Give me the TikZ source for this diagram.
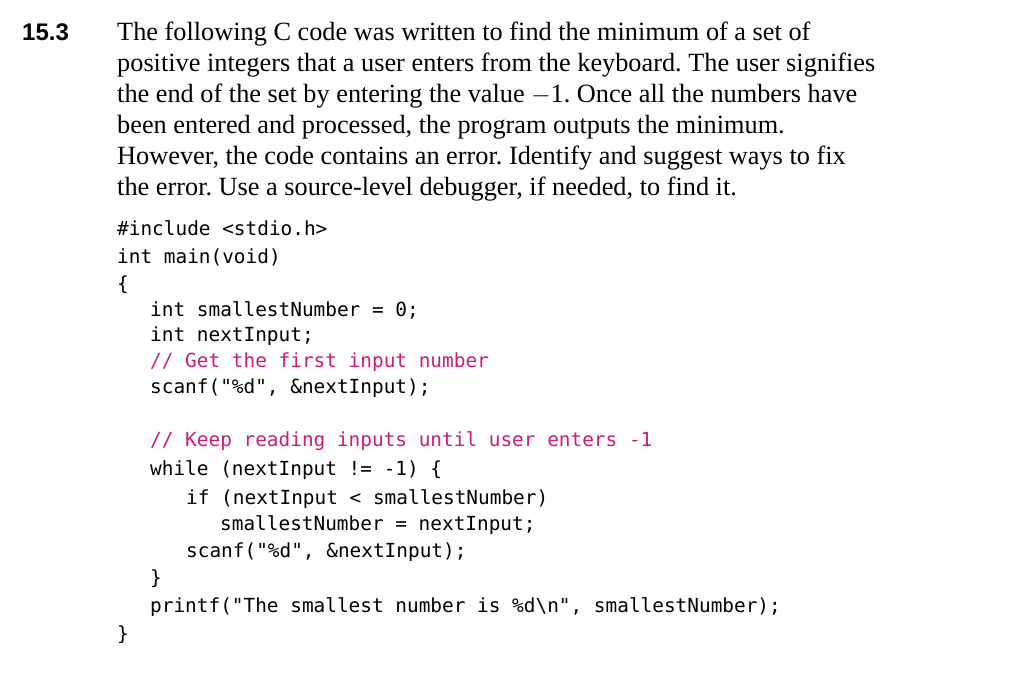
\documentclass[tikz,border=0pt]{standalone}
\usepackage{fontspec}
\setmainfont{Liberation Serif}
\newfontfamily\codefont{DejaVu Sans Mono}
\newfontfamily\numfont{Liberation Sans}
\definecolor{cmt}{RGB}{204,28,120}
\begin{document}
\frenchspacing
\begin{tikzpicture}[x=1pt,y=-1pt,
  txt/.style={anchor=base west,inner sep=0pt,font=\fontsize{26.3}{30}\selectfont},
  code/.style={anchor=base west,inner sep=0pt,font=\codefont\fontsize{19.4}{24}\selectfont}]
\useasboundingbox (0,0) rectangle (1026,700);
\node[anchor=base west,inner sep=0pt,font=\numfont\bfseries\fontsize{24}{28}\selectfont] (num) at (22,41) {15.3};
\node[txt] (t1) at (117,41) {The following C code was written to find the minimum of a set of};
\node[txt] (t2) at (117,72) {positive integers that a user enters from the keyboard. The user signifies};
\node[txt] (t3) at (117,103) {the end of the set by entering the value $-$1. Once all the numbers have};
\node[txt] (t4) at (117,134) {been entered and processed, the program outputs the minimum.};
\node[txt] (t5) at (117,165) {However, the code contains an error. Identify and suggest ways to fix};
\node[txt] (t6) at (117,196) {the error. Use a source-level debugger, if needed, to find it.};
\node[code] (c1) at (117,236) {\#include <stdio.h>};
\node[code] (c2) at (117,264) {int main(void)};
\node[code] (c3) at (117,291) {\{};
\node[code] (c4) at (150,317) {int smallestNumber = 0;};
\node[code] (c5) at (150,342) {int nextInput;};
\node[code,text=cmt] (c6) at (150,368) {// Get the first input number};
\node[code] (c7) at (150,394) {scanf("\%d", \&nextInput);};
\node[code,text=cmt] (c8) at (150,447) {// Keep reading inputs until user enters -1};
\node[code] (c9) at (150,476) {while (nextInput != -1) \{};
\node[code] (c10) at (186,504) {if (nextInput < smallestNumber)};
\node[code] (c11) at (220,530) {smallestNumber = nextInput;};
\node[code] (c12) at (186,557) {scanf("\%d", \&nextInput);};
\node[code] (c13) at (150,584) {\}};
\node[code] (c14) at (150,612) {printf("The smallest number is \%d\textbackslash n", smallestNumber);};
\node[code] (c15) at (117,640) {\}};
\end{tikzpicture}
\end{document}
